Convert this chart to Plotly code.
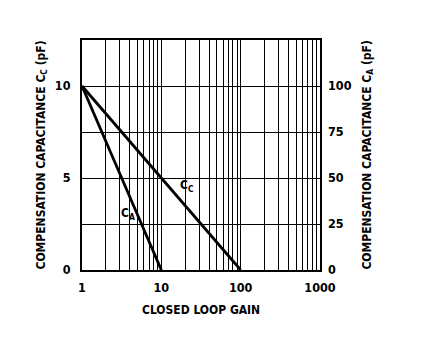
import plotly.graph_objects as go

# Data
cc_gain = [1, 100]
cc_pf = [10, 0]
ca_gain = [1, 10]
ca_pf = [100, 0]

left_ticks = [0, 5, 10]
right_ticks = [0, 25, 50, 75, 100]
x_ticks = [1, 10, 100, 1000]

FONT = "DejaVu Sans Condensed, Liberation Sans Narrow, Arial Narrow, Liberation Sans"

fig = go.Figure()
fig.add_trace(go.Scatter(x=cc_gain, y=cc_pf, mode="lines",
                         line=dict(color="black", width=2.8), yaxis="y", showlegend=False))
fig.add_trace(go.Scatter(x=ca_gain, y=ca_pf, mode="lines",
                         line=dict(color="black", width=2.8), yaxis="y2", showlegend=False))

minor_vals = [m * d for d in [1, 10, 100] for m in range(2, 10)]

tf = dict(family=FONT, size=12.5, weight="bold")

fig.update_layout(
    width=447, height=357,
    margin=dict(l=82, r=127, t=40, b=87),
    paper_bgcolor="white", plot_bgcolor="white",
    font=dict(family=FONT, color="black", size=12),
    xaxis=dict(type="log", range=[0, 3], tickvals=x_ticks, ticktext=[str(v) for v in x_ticks],
               showgrid=True, gridcolor="black", gridwidth=1.4,
               minor=dict(tickvals=minor_vals, showgrid=True, gridcolor="black", gridwidth=1.4),
               showline=True, linecolor="black", linewidth=2, mirror=True,
               ticks="", ticklabelstandoff=5, zeroline=False, tickfont=tf),
    yaxis=dict(range=[0, 12.5], tickvals=left_ticks, ticktext=[str(v) for v in left_ticks],
               showgrid=False,
               showline=True, linecolor="black", linewidth=2, mirror=True,
               ticks="", ticklabelstandoff=7, zeroline=False, tickfont=tf),
    yaxis2=dict(range=[0, 125], overlaying="y", side="right",
                tickvals=right_ticks, ticktext=[str(v) for v in right_ticks],
                showgrid=True, gridcolor="black", gridwidth=1.4,
                showline=False, ticks="", ticklabelstandoff=7, zeroline=False, tickfont=tf),
)

af = dict(family=FONT, size=12, weight="bold")
fig.add_annotation(x=-0.17, y=0.5, xref="paper", yref="paper", xanchor="center", yanchor="middle",
                   text="COMPENSATION CAPACITANCE C<sub>C</sub> (pF)",
                   textangle=-90, showarrow=False, font=af)
fig.add_annotation(x=1.2, y=0.5, xref="paper", yref="paper", xanchor="center", yanchor="middle",
                   text="COMPENSATION CAPACITANCE C<sub>A</sub> (pF)",
                   textangle=-90, showarrow=False, font=af)
fig.add_annotation(x=0.5, y=-0.174, xref="paper", yref="paper", xanchor="center", yanchor="middle",
                   text="CLOSED LOOP GAIN",
                   showarrow=False, font=af)

lf = dict(family=FONT, size=12, weight="bold")
fig.add_annotation(x=1.32, y=4.57, xref="x", yref="y", text="C<sub>C</sub>",
                   showarrow=False, font=lf)
fig.add_annotation(x=0.585, y=3.04, xref="x", yref="y", text="C<sub>A</sub>",
                   showarrow=False, font=lf)

fig.write_html("out.html")
